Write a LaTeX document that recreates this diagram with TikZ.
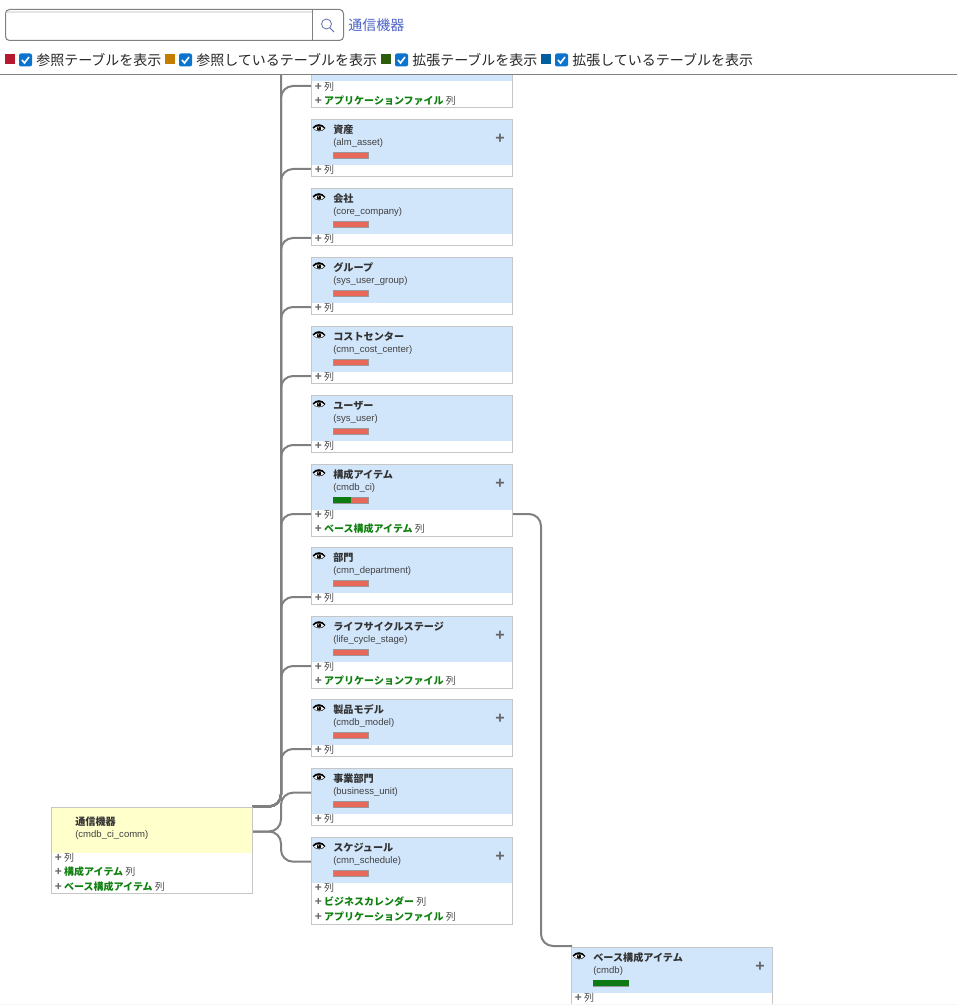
\documentclass[tikz,border=0pt]{standalone}
\usepackage{fontspec}
\setmainfont{Noto Sans CJK JP}
\newfontfamily\latf{Liberation Sans}
\definecolor{hdrblue}{HTML}{D2E6FB}
\definecolor{hdryel}{HTML}{FFFFCC}
\definecolor{edgeg}{HTML}{C6C6C6}
\definecolor{linkg}{HTML}{808080}
\definecolor{rowgreen}{HTML}{108010}
\definecolor{barred}{HTML}{E8695A}
\definecolor{bargreen}{HTML}{0E7A14}
\definecolor{cbblue}{HTML}{0B74CE}
\definecolor{linkblue}{HTML}{4A62C4}
\tikzset{
  x=0.75pt,y=-0.75pt,
  tbox/.style={draw=edgeg,line width=0.75pt,fill=white,anchor=north west,inner sep=0pt,outer sep=0pt,minimum width=150.75pt},
  link/.style={draw=linkg,line width=1.5pt,rounded corners=9pt},
  titletxt/.style={anchor=west,inner sep=0pt,font=\bfseries\fontsize{7.6}{9}\selectfont,text=black!80},
  subtxt/.style={anchor=west,inner sep=0pt,font=\latf\fontsize{7.15}{9}\selectfont,text=black!75},
  rowtxt/.style={anchor=west,inner sep=0pt,font=\fontsize{7.5}{9}\selectfont,text=black!70},
  plustxt/.style={inner sep=0pt,font=\latf\bfseries\fontsize{12}{12}\selectfont,text=black!60},
  bartot/.style={draw=black!40,line width=0.4pt,fill=barred},
  tooltxt/.style={anchor=west,inner sep=0pt,font=\fontsize{10.5}{12}\selectfont,text=black!85},
  eyeicon/.pic={
    \fill[black] (-6.5,-1) .. controls (-3,-5.5) and (3,-5.5) .. (6.5,-0.5) .. controls (3,4) and (-3,4) .. (-6.5,-1) -- cycle;
    \fill[white] (-5,0) .. controls (-2.5,-3) and (2.5,-3) .. (5,0) .. controls (2.5,3) and (-2.5,3) .. (-5,0) -- cycle;
    \fill[black] (0,0) circle (2.2);
    \fill[white] (-0.7,-0.7) circle (0.6);
  }
}
\newcommand\tblbox[6]{% id x top bottom headerbottom fill
  \node[tbox,minimum height={0.75pt*(#4-#3)}] (#1) at (#2-0.5,#3-0.5) {};
  \fill[#6] (#2,#3) rectangle (#2+200,#5);
}
\newcommand\tblhead[5]{% id x top title sub
  \pic at (#2+7,#3+8.5) {eyeicon};
  \node[titletxt] (#1-title) at (#2+21,#3+10) {#4};
  \node[subtxt] (#1-sub) at (#2+21,#3+23) {#5};
}
\newcommand\redbar[3]{% id x top
  \node[bartot,inner sep=0pt,anchor=north west,minimum width=26.6pt,minimum height=4.5pt] (#1-bar) at (#2+21,#3+32) {};
}
\newcommand\mixbar[3]{%
  \redbar{#1}{#2}{#3}
  \fill[bargreen] (#2+21,#3+32) rectangle (#2+39,#3+38);
}
\newcommand\greenbar[3]{%
  \redbar{#1}{#2}{#3}
  \fill[bargreen] (#2+21,#3+32) rectangle (#2+57,#3+38);
}
\newcommand\morebtn[3]{% id x top
  \node[plustxt] (#1-more) at (#2+188,#3+18.5) {+};
}
\newcommand\rowplain[3]{% id x y
  \node[rowtxt] (#1) at (#2+2.5,#3+0.5) {\makebox[8.6pt][l]{\textcolor{black!60}{\latf\bfseries\fontsize{9}{9}\selectfont +}}\hspace{-1.5pt}列};
}
\newcommand\rowref[4]{% id x y label
  \node[rowtxt] (#1) at (#2+2.5,#3+0.5) {\makebox[8.6pt][l]{\textcolor{black!60}{\latf\bfseries\fontsize{9}{9}\selectfont +}}\hspace{-1.5pt}\textcolor{rowgreen}{\bfseries #4} 列};
}
\begin{document}
\begin{tikzpicture}
\useasboundingbox (0,0) rectangle (957,1005);
\clip (0,0) rectangle (957,1005);
\fill[white] (0,0) rectangle (957,1005);

% coordinates for connectors
\coordinate (bus) at (281,0);
\coordinate (trunk) at (541,0);
\coordinate (commA) at (252,806.5);
\coordinate (commB) at (252,831.5);
\coordinate (busend) at (281,75);
\coordinate (t0-in) at (312,86);
\coordinate (t1-in) at (312,169);
\coordinate (t2-in) at (312,238);
\coordinate (t3-in) at (312,307);
\coordinate (t4-in) at (312,376);
\coordinate (t5-in) at (312,445);
\coordinate (t6-in) at (312,514);
\coordinate (t7-in) at (312,597);
\coordinate (t8-in) at (312,666);
\coordinate (t9-in) at (312,749);
\coordinate (t10-in) at (312,792.7);
\coordinate (t11-in) at (312,861.7);
\coordinate (t6-out) at (512,514);
\coordinate (base-in) at (572,946);

% connectors
\draw[link] (commA) -- (bus|-commA) -- (busend);
\foreach \t in {t0,t1,t2,t3,t4,t5,t6,t7,t8,t9}{
  \draw[link] (commA) -- (bus|-commA) -- (bus|-\t-in) -- (\t-in);
}
\draw[link] (commB) -- (bus|-commB) -- (bus|-t10-in) -- (t10-in);
\draw[link] (commB) -- (bus|-commB) -- (bus|-t11-in) -- (t11-in);
\draw[link] (t6-out) -- (trunk|-t6-out) -- (trunk|-base-in) -- (base-in);

% clipped table at the top
\tblbox{t0}{312}{36}{108}{81}{hdrblue}
\rowplain{t0-r1}{312}{86}
\rowref{t0-r2}{312}{100.5}{アプリケーションファイル}

\tblbox{t1}{312}{120}{177}{165}{hdrblue}
\tblhead{t1}{312}{120}{資産}{(alm\_asset)}
\redbar{t1}{312}{120}\morebtn{t1}{312}{120}
\rowplain{t1-r1}{312}{169.5}

\tblbox{t2}{312}{189}{246}{234}{hdrblue}
\tblhead{t2}{312}{189}{会社}{(core\_company)}
\redbar{t2}{312}{189}
\rowplain{t2-r1}{312}{238.5}

\tblbox{t3}{312}{258}{315}{303}{hdrblue}
\tblhead{t3}{312}{258}{グループ}{(sys\_user\_group)}
\redbar{t3}{312}{258}
\rowplain{t3-r1}{312}{307.5}

\tblbox{t4}{312}{327}{384}{372}{hdrblue}
\tblhead{t4}{312}{327}{コストセンター}{(cmn\_cost\_center)}
\redbar{t4}{312}{327}
\rowplain{t4-r1}{312}{376.5}

\tblbox{t5}{312}{396}{453}{441}{hdrblue}
\tblhead{t5}{312}{396}{ユーザー}{(sys\_user)}
\redbar{t5}{312}{396}
\rowplain{t5-r1}{312}{445.5}

\tblbox{t6}{312}{465}{537}{510}{hdrblue}
\tblhead{t6}{312}{465}{構成アイテム}{(cmdb\_ci)}
\mixbar{t6}{312}{465}\morebtn{t6}{312}{465}
\rowplain{t6-r1}{312}{514}
\rowref{t6-r2}{312}{528.5}{ベース構成アイテム}

\tblbox{t7}{312}{548}{605}{593}{hdrblue}
\tblhead{t7}{312}{548}{部門}{(cmn\_department)}
\redbar{t7}{312}{548}
\rowplain{t7-r1}{312}{597}

\tblbox{t8}{312}{617}{689}{662}{hdrblue}
\tblhead{t8}{312}{617}{ライフサイクルステージ}{(life\_cycle\_stage)}
\redbar{t8}{312}{617}\morebtn{t8}{312}{617}
\rowplain{t8-r1}{312}{666}
\rowref{t8-r2}{312}{680.5}{アプリケーションファイル}

\tblbox{t9}{312}{700}{757}{745}{hdrblue}
\tblhead{t9}{312}{700}{製品モデル}{(cmdb\_model)}
\redbar{t9}{312}{700}\morebtn{t9}{312}{700}
\rowplain{t9-r1}{312}{749}

\tblbox{t10}{312}{769}{826}{814}{hdrblue}
\tblhead{t10}{312}{769}{事業部門}{(business\_unit)}
\redbar{t10}{312}{769}
\rowplain{t10-r1}{312}{818}

\tblbox{t11}{312}{838}{925}{883}{hdrblue}
\tblhead{t11}{312}{838}{スケジュール}{(cmn\_schedule)}
\redbar{t11}{312}{838}\morebtn{t11}{312}{838}
\rowplain{t11-r1}{312}{887}
\rowref{t11-r2}{312}{901.5}{ビジネスカレンダー}
\rowref{t11-r3}{312}{916}{アプリケーションファイル}

% source table
\tblbox{comm}{52}{808}{894}{853}{hdryel}
\node[titletxt] (comm-title) at (75,822) {通信機器};
\node[subtxt] (comm-sub) at (75,835) {(cmdb\_ci\_comm)};
\rowplain{comm-r1}{52}{857}
\rowref{comm-r2}{52}{871.5}{構成アイテム}
\rowref{comm-r3}{52}{886}{ベース構成アイテム}

% target base table
\tblbox{base}{572}{948}{1020}{993}{hdrblue}
\tblhead{base}{572}{948}{ベース構成アイテム}{(cmdb)}
\greenbar{base}{572}{948}\morebtn{base}{572}{948}
\rowplain{base-r1}{572}{997.5}
\fill[black!4] (0,1003.5) rectangle (957,1005);

% toolbar
\fill[white] (0,0) rectangle (957,74);
\draw[black!50,line width=0.75pt] (0,74.5) -- (957,74.5);
\fill[black!10] (7,11) rectangle (312,13);
\draw[black!50,line width=0.75pt,rounded corners=3pt] (5.5,9.5) rectangle (343.5,40.5);
\draw[black!50,line width=0.75pt] (312.5,9.5) -- (312.5,40.5);
\draw[linkblue!60!gray,line width=0.6pt] (326.5,24) circle (5);
\draw[linkblue!60!gray,line width=0.7pt] (330,28) -- (334,32);
\node[tooltxt,text=linkblue] (crumb) at (348,25) {通信機器};

\newcommand\legend[4]{% square x, colour, text, id
  \fill[#2] (#1,54.5) rectangle (#1+10,64.5);
  \fill[cbblue,rounded corners=1.5pt] (#1+14,53.5) rectangle (#1+27,66.5);
  \draw[white,line width=1.2pt] (#1+17,60) -- (#1+19.5,63) -- (#1+24,57);
  \node[tooltxt] (#4) at (#1+31,60) {#3};
}
\definecolor{sqred}{HTML}{B5182F}
\definecolor{sqorange}{HTML}{C47D00}
\definecolor{sqgreen}{HTML}{2A5E0C}
\definecolor{sqblue}{HTML}{00609F}
\legend{5}{sqred}{参照テーブルを表示}{lg1}
\legend{165}{sqorange}{参照しているテーブルを表示}{lg2}
\legend{381}{sqgreen}{拡張テーブルを表示}{lg3}
\legend{541}{sqblue}{拡張しているテーブルを表示}{lg4}
\end{tikzpicture}
\end{document}
